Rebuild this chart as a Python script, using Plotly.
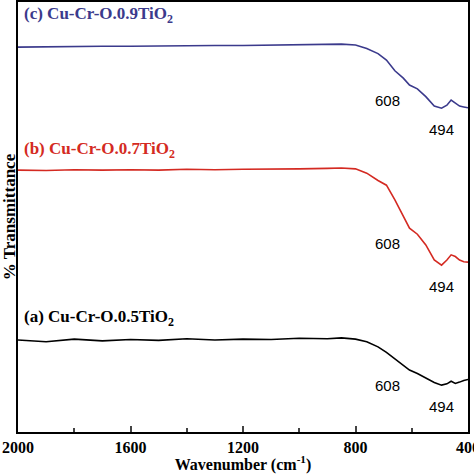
import plotly.graph_objects as go

wn = [2000, 1900, 1800, 1700, 1600, 1500, 1400, 1300, 1200, 1100, 1000, 900, 850, 800, 760, 720, 690, 660, 630, 608, 580, 550, 520, 494, 475, 460, 445, 430, 415, 400]
t_a = [21.4, 21.0, 21.6, 21.2, 21.5, 21.3, 21.7, 21.4, 21.6, 21.5, 21.8, 21.7, 21.9, 21.6, 21.0, 19.8, 18.5, 17.0, 15.5, 14.4, 13.6, 12.6, 11.5, 10.9, 11.2, 11.8, 11.3, 11.6, 12.0, 12.2]
t_b = [60.9, 60.8, 61.0, 60.9, 61.0, 60.9, 61.1, 61.0, 61.1, 61.1, 61.2, 61.3, 61.4, 61.2, 60.2, 58.5, 57.4, 54.0, 50.0, 47.4, 46.0, 43.5, 40.0, 38.8, 40.0, 41.2, 40.8, 40.0, 39.6, 39.5]
t_c = [89.5, 89.6, 89.6, 89.7, 89.7, 89.8, 89.8, 89.9, 89.9, 90.0, 90.0, 90.1, 90.2, 90.0, 89.2, 88.0, 86.5, 84.0, 82.3, 80.7, 79.8, 78.0, 75.8, 75.3, 76.0, 77.2, 76.6, 75.8, 75.6, 75.4]

series = [("(a) Cu-Cr-O.0.5TiO<sub>2</sub>", t_a, "#000000", 26.5),
          ("(b) Cu-Cr-O.0.7TiO<sub>2</sub>", t_b, "#d42a22", 65.5),
          ("(c) Cu-Cr-O.0.9TiO<sub>2</sub>", t_c, "#3b3a8c", 97.0)]
peak_labels = ["608", "494"]

fig = go.Figure()
ann = []
for name, ys, col, ly in series:
    fig.add_trace(go.Scatter(x=wn, y=ys, mode="lines", line=dict(color=col, width=1.6), showlegend=False))
    ann.append(dict(x=2000, y=ly, xref="x", yref="y", text=name, showarrow=False, xanchor="left", xshift=4,
                    font=dict(family="Liberation Serif", size=17, color=col, weight="bold")))
    ann.append(dict(x=608, y=ys[19] - 3.5, text=peak_labels[0], showarrow=False, xanchor="center", xshift=-22,
                    font=dict(family="Liberation Sans", size=15, color="black")))
    ann.append(dict(x=494, y=ys[23] - 5, text=peak_labels[1], showarrow=False, xanchor="center",
                    font=dict(family="Liberation Sans", size=15, color="black")))

fig.update_layout(
    width=474, height=474, margin=dict(l=18, r=6, t=2, b=42, autoexpand=False),
    plot_bgcolor="white", paper_bgcolor="white", annotations=ann,
    xaxis=dict(range=[2000, 400], tickvals=[2000, 1600, 1200, 800, 400], showline=True, linecolor="black", linewidth=2,
               mirror=True, ticks="inside", ticklen=6, tickwidth=2, showgrid=False, zeroline=False,
               ticklabeloverflow="allow",
               minor=dict(tickvals=[1800, 1400, 1000, 600], ticks="inside", ticklen=4, tickwidth=2),
               tickfont=dict(family="Liberation Serif", size=16, color="black", weight="bold"),
               title=dict(text="Wavenumber (cm<sup>-1</sup>)", standoff=0,
                          font=dict(family="Liberation Serif", size=16, color="black", weight="bold"))),
    yaxis=dict(range=[0, 100], showticklabels=False, ticks="", showline=True, linecolor="black", linewidth=2,
               mirror=True, showgrid=False, zeroline=False,
               title=dict(text="% Transmittance", standoff=0,
                          font=dict(family="Liberation Serif", size=17, color="black", weight="bold"))),
)
fig.write_html("out.html", config={"displayModeBar": False}, post_script="document.body.style.margin='0px';")
